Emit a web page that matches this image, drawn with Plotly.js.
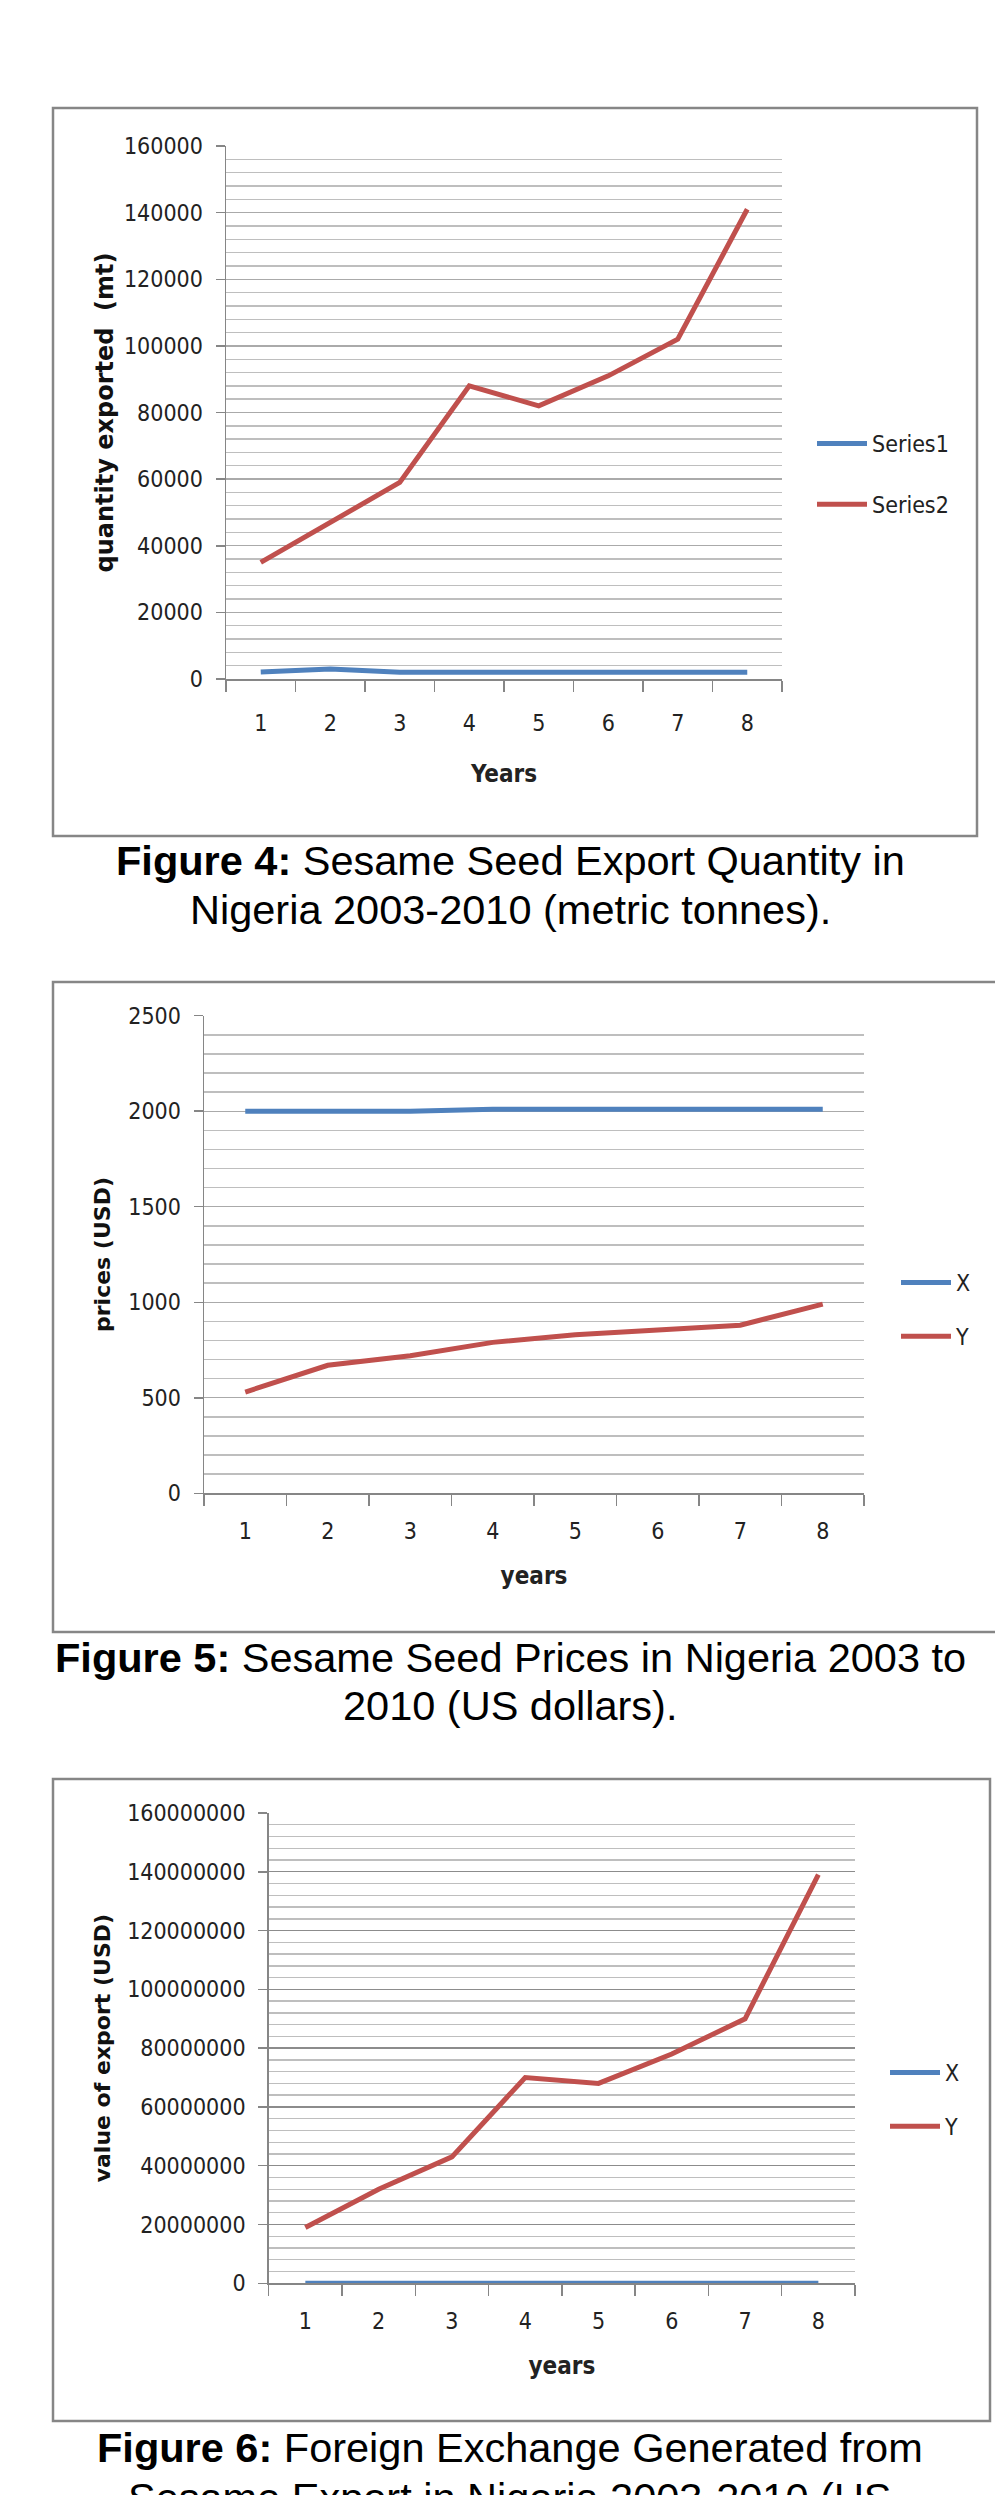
<!DOCTYPE html>
<html>
<head>
<meta charset="utf-8">
<script src="https://cdn.plot.ly/plotly-3.0.1.min.js"></script>
<style>
  html, body { margin: 0; padding: 0; background: #ffffff; }
  #figures { width: 995px; height: 2495px; }
</style>
</head>
<body>
<div id="figures"></div>
<script>
// Sesame seed statistics for Nigeria, 2003-2010 (years numbered 1..8)
const years = [1, 2, 3, 4, 5, 6, 7, 8];

// Figure 4: export quantity (metric tonnes)
const quantityNames = ['Series1', 'Series2'];
const quantitySeries1 = [2100, 3000, 2000, 2000, 2000, 2000, 2000, 2000];
const quantitySeries2 = [35000, 47000, 59000, 88000, 82000, 91000, 102000, 141000];

// Figure 5: prices (USD)
const priceNames = ['X', 'Y'];
const priceX = [2000, 2000, 2000, 2010, 2010, 2010, 2010, 2010];
const priceY = [530, 670, 720, 790, 830, 855, 880, 990];

// Figure 6: value of export (USD)
const valueNames = ['X', 'Y'];
const valueX = [0, 0, 0, 0, 0, 0, 0, 0];
const valueY = [19000000, 32000000, 43000000, 70000000, 68000000, 78000000, 90000000, 139000000];

// Axis titles and captions
const axisTitles = {
  q: { x: 'Years', y: 'quantity exported  (mt)' },
  p: { x: 'years', y: 'prices (USD)' },
  v: { x: 'years', y: 'value of export (USD)' }
};
const captionLines = {
  q: ['<b>Figure 4:</b> Sesame Seed Export Quantity in', 'Nigeria 2003-2010 (metric tonnes).'],
  p: ['<b>Figure 5:</b> Sesame Seed Prices in Nigeria 2003 to', '2010 (US dollars).'],
  v: ['<b>Figure 6:</b> Foreign Exchange Generated from', 'Sesame Export in Nigeria 2003-2010 (US']
};

// ---- page geometry (pixels) ----
const W = 995, H = 2495;
const px = v => v / W;
const py = v => 1 - v / H;

const BLUE = '#4F81BD';
const RED = '#C0504D';
const AXIS = '#868686';
const NARROW = '"DejaVu Sans Condensed", "Liberation Sans", Arial, sans-serif';
const TITLEFONT = '"DejaVu Sans", Verdana, sans-serif';
const CAPFONT = '"Liberation Sans", Arial, sans-serif';

function lineTrace(y, name, color, xa, ya, legend) {
  return {
    type: 'scatter', mode: 'lines', x: years, y: y, name: name,
    xaxis: xa, yaxis: ya, legend: legend, legendgroup: legend + name,
    line: { color: color, width: 5 }, hoverinfo: 'x+y'
  };
}

const data = [
  lineTrace(quantitySeries1, quantityNames[0], BLUE, 'x', 'y', 'legend'),
  lineTrace(quantitySeries2, quantityNames[1], RED, 'x', 'y', 'legend'),
  lineTrace(priceX, priceNames[0], BLUE, 'x2', 'y2', 'legend2'),
  lineTrace(priceY, priceNames[1], RED, 'x2', 'y2', 'legend2'),
  lineTrace(valueX, valueNames[0], BLUE, 'x3', 'y3', 'legend3'),
  lineTrace(valueY, valueNames[1], RED, 'x3', 'y3', 'legend3')
];

// category axis: labels on the years, tick marks between them
const betweenTicks = years.map(v => v - 0.5).concat([years[years.length - 1] + 0.5]);

function xAxis(left, right, yanchor, title, labelGap, standoff) {
  return {
    domain: [px(left), px(right)], anchor: yanchor,
    range: [0.5, 8.5], tickmode: 'array', tickvals: years, ticktext: years.map(String),
    ticks: '', showgrid: false, zeroline: false,
    showline: true, linecolor: AXIS, linewidth: 1.5,
    tickfont: { family: NARROW, size: 23, color: '#222' },
    ticklabelstandoff: labelGap,
    minor: { tickmode: 'array', tickvals: betweenTicks, ticks: 'outside', ticklen: 11,
             tickcolor: AXIS, tickwidth: 1.5, showgrid: false },
    title: { text: '<b>' + title + '</b>', font: { family: NARROW, size: 24, color: '#222' }, standoff: standoff },
    fixedrange: true
  };
}

function yAxis(top, bottom, xanchor, max, major, minor, title, titleSize, titleGap, majorGrid) {
  return {
    domain: [py(bottom), py(top)], anchor: xanchor,
    range: [0, max], tickmode: 'linear', tick0: 0, dtick: major, tickformat: 'd',
    ticks: 'outside', ticklen: 9, tickcolor: AXIS, tickwidth: 1.5,
    showline: true, linecolor: AXIS, linewidth: 1.5, zeroline: false,
    showgrid: true, gridcolor: majorGrid, gridwidth: 1.4,
    minor: { tickmode: 'linear', tick0: 0, dtick: minor, ticks: '', showgrid: true,
             gridcolor: '#bebebe', gridwidth: 1.4 },
    tickfont: { family: NARROW, size: 23, color: '#222' },
    ticklabelstandoff: 8,
    title: { text: '<b>' + title + '</b>', font: { family: TITLEFONT, size: titleSize, color: '#111' }, standoff: titleGap },
    fixedrange: true
  };
}

function legendAt(x, y, gap) {
  return {
    x: px(x), y: py(y), xanchor: 'left', yanchor: 'top',
    bgcolor: 'rgba(0,0,0,0)', borderwidth: 0,
    font: { family: NARROW, size: 23, color: '#222' },
    itemwidth: 50, tracegroupgap: gap, traceorder: 'grouped'
  };
}

function frame(x0, y0, x1, y1) {
  return { type: 'rect', xref: 'paper', yref: 'paper', layer: 'below',
           x0: px(x0), x1: px(x1), y0: py(y1), y1: py(y0),
           line: { color: AXIS, width: 2.5 }, fillcolor: 'rgba(0,0,0,0)' };
}

function caption(text, y) {
  return { xref: 'paper', yref: 'paper', x: px(510), y: py(y), xanchor: 'center', yanchor: 'middle',
           text: text, showarrow: false, font: { family: CAPFONT, size: 41.5, color: '#000' } };
}

const layout = {
  width: W, height: H, margin: { l: 0, r: 0, t: 0, b: 0, pad: 0 },
  paper_bgcolor: '#ffffff', plot_bgcolor: '#ffffff', showlegend: true,
  xaxis: xAxis(226, 782, 'y', axisTitles.q.x, 23, 30),
  yaxis: yAxis(146, 679, 'x', 160000, 20000, 4000, axisTitles.q.y, 24, 3, '#aaaaaa'),
  xaxis2: xAxis(204, 864, 'y2', axisTitles.p.x, 17, 24),
  yaxis2: yAxis(1015.7, 1493.3, 'x2', 2500, 500, 100, axisTitles.p.y, 22, 11, '#aaaaaa'),
  xaxis3: xAxis(268.7, 855, 'y3', axisTitles.v.x, 17, 24),
  yaxis3: yAxis(1813, 2283.3, 'x3', 160000000, 20000000, 4000000, axisTitles.v.y, 22, 10, '#8c8c8c'),
  legend: legendAt(812, 422, 28),
  legend2: legendAt(896, 1261, 21),
  legend3: legendAt(885, 2051, 21),
  shapes: [
    frame(53, 108, 977, 836),
    frame(53, 982, 1005, 1632),
    frame(53, 1779, 990, 2421)
  ],
  annotations: [
    caption(captionLines.q[0], 860), caption(captionLines.q[1], 910),
    caption(captionLines.p[0], 1657), caption(captionLines.p[1], 1705),
    caption(captionLines.v[0], 2447), caption(captionLines.v[1], 2497)
  ]
};

Plotly.newPlot('figures', data, layout, { staticPlot: true, displayModeBar: false });
</script>
</body>
</html>
